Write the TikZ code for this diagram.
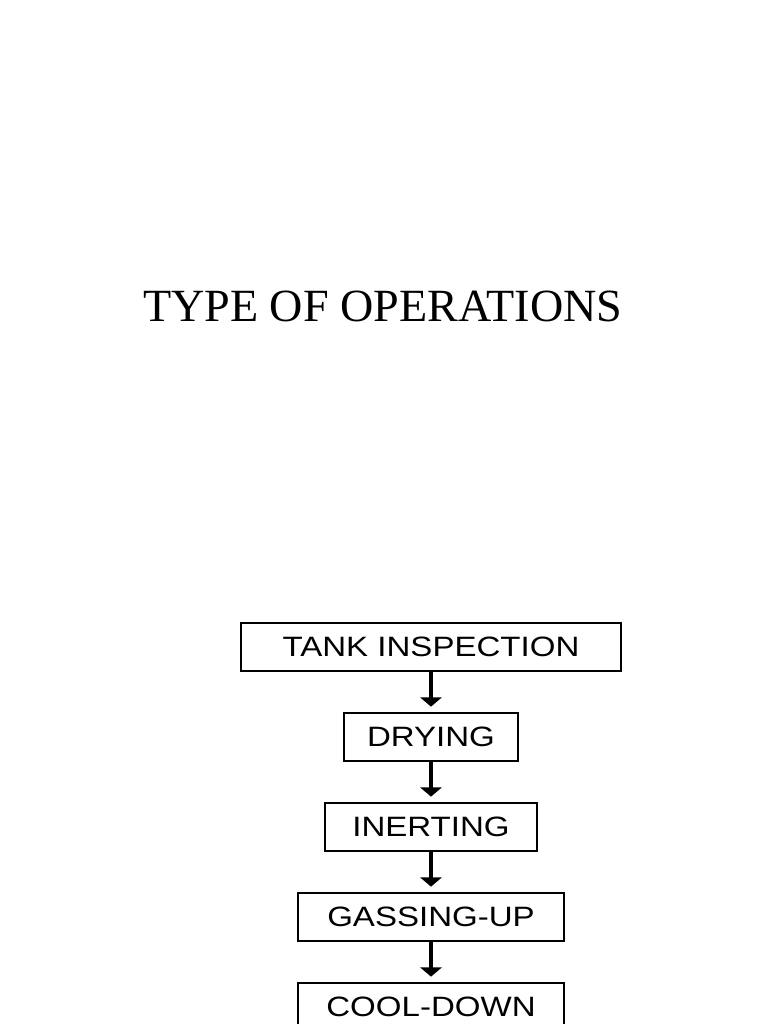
\documentclass[tikz,border=0pt]{standalone}
\usepackage{fontspec}
\setmainfont{Liberation Serif}
\newfontfamily\boxfont{Liberation Sans}[FakeStretch=1.18]
\usetikzlibrary{arrows.meta, positioning}

\begin{document}
\begin{tikzpicture}[
		node distance=30pt,
		stepbox/.style={draw, line width=1.3pt, minimum height=36.2pt, inner sep=0pt, font=\boxfont\fontsize{21pt}{21pt}\selectfont},
		flow/.style={-{Triangle[width=16pt,length=7pt]}, line width=3pt, shorten >=4pt}
		]
		\useasboundingbox (0,0) rectangle (576pt,-768pt);
		\node (title) [anchor=base, font=\fontsize{34.6pt}{34.6pt}\selectfont] at (287pt,-240.75pt) {TYPE OF OPERATIONS};
		\node (inspect) [stepbox, minimum width=285pt] at (323.25pt,-485.25pt) {TANK INSPECTION};
		\node (dry) [stepbox, minimum width=130pt, below=of inspect] {DRYING};
		\node (inert) [stepbox, minimum width=159pt, below=of dry] {INERTING};
		\node (gas) [stepbox, minimum width=199pt, below=of inert] {GASSING-UP};
		\node (cool) [stepbox, minimum width=200pt, below=of gas] {COOL-DOWN};
		\path[flow]
		(inspect) edge (dry) (dry) edge (inert) (inert) edge (gas) (gas) edge (cool);
	\end{tikzpicture}
\end{document}
